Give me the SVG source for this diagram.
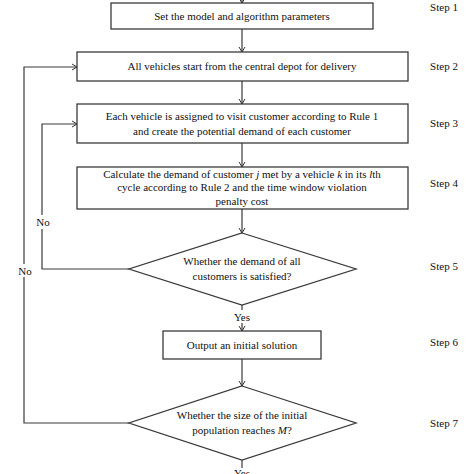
<svg xmlns="http://www.w3.org/2000/svg" width="474" height="474" viewBox="0 0 474 474">
<defs>
<marker id="ah" markerWidth="8" markerHeight="8" refX="6" refY="4" orient="auto" markerUnits="userSpaceOnUse">
<path d="M1,1 L6,4 L1,7" fill="none" stroke="#333" stroke-width="1"/>
</marker>
<style>
.b{fill:#fff;stroke:#3a3a3a;stroke-width:1.3}
.t{font-family:"Liberation Serif",serif;font-size:11px;fill:#111;text-anchor:middle}
.s{font-family:"Liberation Serif",serif;font-size:11px;fill:#111;text-anchor:middle}
.c{fill:none;stroke:#3a3a3a;stroke-width:1.2}
</style>
</defs>
<rect width="474" height="474" fill="#fff"/>
<g id="connectors">
<line class="c" x1="242" y1="0" x2="242" y2="3" marker-end="url(#ah)"/>
<line class="c" x1="242" y1="29" x2="242" y2="52" marker-end="url(#ah)"/>
<line class="c" x1="242" y1="81" x2="242" y2="104" marker-end="url(#ah)"/>
<line class="c" x1="242" y1="143" x2="242" y2="167" marker-end="url(#ah)"/>
<line class="c" x1="242" y1="209" x2="242" y2="233" marker-end="url(#ah)"/>
<line class="c" x1="242" y1="305" x2="242" y2="310"/>
<line class="c" x1="242" y1="323" x2="242" y2="331" marker-end="url(#ah)"/>
<line class="c" x1="242" y1="359" x2="242" y2="386" marker-end="url(#ah)"/>
<line class="c" x1="242" y1="460" x2="242" y2="468"/>
<path class="c" d="M129,269 H42 V229"/>
<path class="c" d="M42,215 V124 H77" marker-end="url(#ah)"/>
<path class="c" d="M129,423 H24 V277"/>
<path class="c" d="M24,264 V67 H77" marker-end="url(#ah)"/>
<text class="t" x="242" y="320.5">Yes</text>
<text class="t" x="242" y="477">Yes</text>
<text class="t" x="43" y="226">No</text>
<text class="t" x="25" y="274.5">No</text>
</g>
<g id="step1">
<rect class="b" x="111" y="3" width="262" height="26"/>
<text class="t" x="242" y="20">Set the model and algorithm parameters</text>
</g>
<g id="step2">
<rect class="b" x="77" y="52" width="331" height="29"/>
<text class="t" x="242" y="70">All vehicles start from the central depot for delivery</text>
</g>
<g id="step3">
<rect class="b" x="77" y="104" width="331" height="39"/>
<text class="t" x="242" y="119.5">Each vehicle is assigned to visit customer according to Rule 1</text>
<text class="t" x="242" y="134.5">and create the potential demand of each customer</text>
</g>
<g id="step4">
<rect class="b" x="77" y="167" width="331" height="42"/>
<text class="t" x="242" y="178">Calculate the demand of customer <tspan font-style="italic">j</tspan> met by a vehicle <tspan font-style="italic">k</tspan> in its <tspan font-style="italic">l</tspan>th</text>
<text class="t" x="242" y="191.3">cycle according to Rule 2 and the time window violation</text>
<text class="t" x="242" y="204.6">penalty cost</text>
</g>
<g id="step5">
<polygon class="b" points="242,233 356,269 242,305 129,269"/>
<text class="t" x="242" y="265">Whether the demand of all</text>
<text class="t" x="242" y="280">customers is satisfied?</text>
</g>
<g id="step6">
<rect class="b" x="163" y="331" width="158" height="28"/>
<text class="t" x="242" y="349">Output an initial solution</text>
</g>
<g id="step7">
<polygon class="b" points="242,386 356,423 242,460 129,423"/>
<text class="t" x="242" y="419">Whether the size of the initial</text>
<text class="t" x="242" y="434">population reaches <tspan font-style="italic">M</tspan>?</text>
</g>
<g id="steps">
<text class="s" x="444" y="11">Step 1</text>
<text class="s" x="444" y="70">Step 2</text>
<text class="s" x="444" y="127">Step 3</text>
<text class="s" x="444" y="187">Step 4</text>
<text class="s" x="444" y="270">Step 5</text>
<text class="s" x="444" y="346">Step 6</text>
<text class="s" x="444" y="427">Step 7</text>
</g>
</svg>
